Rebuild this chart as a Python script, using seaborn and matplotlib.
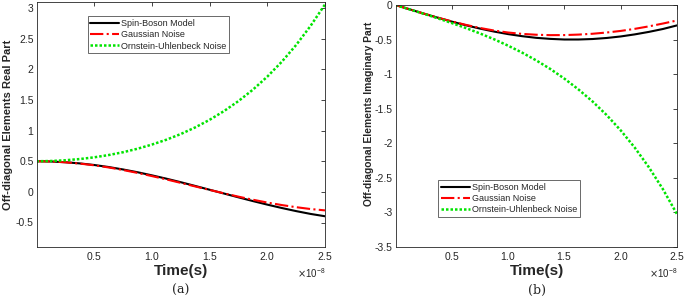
import matplotlib
matplotlib.use("Agg")
import matplotlib.pyplot as plt
import matplotlib.ticker as mticker
import seaborn as sns
import pandas as pd
import numpy as np

# time axis in units of 1e-8 s
t = [0, 0.125, 0.25, 0.375, 0.5, 0.625, 0.75, 0.875, 1.0, 1.125, 1.25, 1.375,
     1.5, 1.625, 1.75, 1.875, 2.0, 2.125, 2.25, 2.375, 2.5]

spin_real = [0.5, 0.496, 0.484, 0.465, 0.439, 0.406, 0.366, 0.321, 0.270, 0.216, 0.158,
             0.097, 0.035, -0.027, -0.089, -0.150, -0.208, -0.263, -0.314, -0.360, -0.398]
gauss_real = [0.5, 0.496, 0.483, 0.462, 0.434, 0.399, 0.357, 0.310, 0.258, 0.204, 0.147,
              0.089, 0.032, -0.024, -0.078, -0.128, -0.174, -0.215, -0.250, -0.280, -0.302]
ou_real = [0.5, 0.504, 0.516, 0.536, 0.564, 0.601, 0.647, 0.704, 0.772, 0.851, 0.944,
           1.052, 1.176, 1.319, 1.482, 1.668, 1.881, 2.123, 2.398, 2.710, 3.060]

spin_imag = [0, -0.062, -0.124, -0.183, -0.240, -0.293, -0.341, -0.384, -0.421, -0.451, -0.475,
             -0.490, -0.499, -0.499, -0.492, -0.477, -0.455, -0.425, -0.389, -0.347, -0.295]
gauss_imag = [0, -0.062, -0.123, -0.182, -0.237, -0.287, -0.332, -0.369, -0.398, -0.418, -0.430,
              -0.436, -0.435, -0.428, -0.416, -0.398, -0.375, -0.345, -0.309, -0.268, -0.224]
ou_imag = [0, -0.063, -0.126, -0.192, -0.261, -0.333, -0.411, -0.495, -0.588, -0.689, -0.801,
           -0.925, -1.065, -1.221, -1.395, -1.591, -1.813, -2.063, -2.346, -2.664, -3.025]

labels = ["Spin-Boson Model", "Gaussian Noise", "Ornstein-Uhlenbeck Noise"]
colors = ["black", "#ff0000", "#00e400"]
styles = ["-", "-.", (0, (1, 0.8))]
widths = [1.5, 1.5, 1.8]

sns.set_style("white")
plt.rcParams["font.family"] = ["Liberation Sans", "DejaVu Sans"]
plt.rcParams["xtick.direction"] = "in"
plt.rcParams["ytick.direction"] = "in"

fig = plt.figure(figsize=(6.85, 3.01), dpi=100)
ax1 = fig.add_axes([37 / 685, 54 / 301, 288 / 685, 245 / 301])
ax2 = fig.add_axes([396 / 685, 54 / 301, 281 / 685, 242 / 301])

time_s = np.array(t) * 1e-8


def draw(ax, series):
    for y, lab, c, ls, lw in zip(series, labels, colors, styles, widths):
        df = pd.DataFrame({"time": time_s, "value": y})
        sns.lineplot(data=df, x="time", y="value", ax=ax, color=c, linestyle=ls,
                     linewidth=lw, label=lab)
    ax.set_xlim(0.005e-8, 2.5e-8)
    ax.set_xticks([0.5e-8, 1e-8, 1.5e-8, 2e-8, 2.5e-8])
    fmt = mticker.ScalarFormatter(useMathText=True)
    fmt.set_powerlimits((-3, 3))
    ax.xaxis.set_major_formatter(fmt)
    ax.xaxis.get_offset_text().set_fontsize(7)
    ax.xaxis.get_offset_text().set_color("#404040")
    ax.tick_params(axis="both", which="both", labelsize=7.5, colors="#262626",
                   length=3, width=0.6, top=True, right=True, labelcolor="#262626", pad=2.5)
    for sp in ax.spines.values():
        sp.set_color("#262626")
        sp.set_linewidth(0.6)
    ax.set_xlabel("Time(s)", fontsize=11, fontweight="bold", labelpad=1)


def legend(ax, loc, anchor):
    leg = ax.legend(loc=loc, bbox_to_anchor=anchor, fontsize=6.5,
                    frameon=True, fancybox=False, edgecolor="#262626", handlelength=3.2,
                    handletextpad=0.2, borderpad=0.3, labelspacing=0.25)
    leg.get_frame().set_linewidth(0.6)


draw(ax1, [spin_real, gauss_real, ou_real])
ax1.set_ylim(-0.9, 3.1)
ax1.set_yticks([-0.5, 0, 0.5, 1, 1.5, 2, 2.5, 3])
ax1.yaxis.set_major_formatter(mticker.FuncFormatter(lambda v, p: f"{v:g}"))
ax1.set_ylabel("Off-diagonal Elements Real Part", fontsize=8, fontweight="bold", labelpad=2)
legend(ax1, "upper left", (0.16, 0.96))

draw(ax2, [spin_imag, gauss_imag, ou_imag])
ax2.set_ylim(-3.5, 0)
ax2.set_yticks([-3.5, -3, -2.5, -2, -1.5, -1, -0.5, 0])
ax2.yaxis.set_major_formatter(mticker.FuncFormatter(lambda v, p: f"{v:g}"))
ax2.set_ylabel("Off-diagonal Elements Imaginary Part", fontsize=7.4, fontweight="bold")
ax2.yaxis.set_label_coords(-0.08, 0.55)
legend(ax2, "lower left", (0.135, 0.105))

fig.text(181 / 685, 1 - 290 / 301, "(a)", ha="center", va="center", fontsize=9,
         family="DejaVu Serif")
fig.text(537 / 685, 1 - 290 / 301, "(b)", ha="center", va="center", fontsize=9,
         family="DejaVu Serif")

fig.savefig("out.png", dpi=100)
